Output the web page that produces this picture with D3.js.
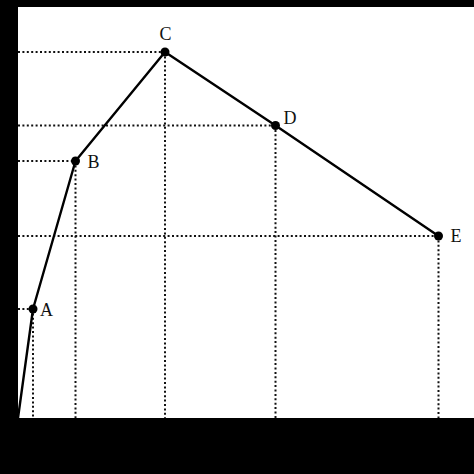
<!DOCTYPE html>
<html lang="en">
<head>
<meta charset="UTF-8" />
<title>Piecewise curve A-E</title>
<script src="https://d3js.org/d3.v7.min.js"></script>
<style>
  html, body { margin: 0; padding: 0; background: #000; }
  svg { display: block; }
  text.label { font-family: "Liberation Serif", "DejaVu Serif", serif; font-size: 18px; fill: #111; }
</style>
</head>
<body>
<div id="chart"></div>
<script>
// Points (arbitrary units, origin at bottom-left corner)
const names   = ["", "A", "B", "C", "D", "E"];
const xValues = [0, 15, 57.5, 147, 257.5, 420.5];
const yValues = [0, 109, 257, 366, 292.5, 182];

const width = 474, height = 474;
const margin = { top: 7, right: 0, bottom: 56, left: 18 };

const points = names.map((n, i) => ({ name: n, x: xValues[i], y: yValues[i] }));
const labelled = points.filter(d => d.name);

const x = d3.scaleLinear()
  .domain([0, 456])
  .range([margin.left, width - margin.right]);
const y = d3.scaleLinear()
  .domain([0, 411])
  .range([height - margin.bottom, margin.top]);

const svg = d3.select("#chart").append("svg")
  .attr("width", width)
  .attr("height", height)
  .attr("viewBox", [0, 0, width, height]);

svg.append("rect")
  .attr("width", width).attr("height", height)
  .attr("fill", "#000");

// white plot area
svg.append("rect")
  .attr("x", x(0)).attr("y", y(411))
  .attr("width", x(456) - x(0))
  .attr("height", y(0) - y(411))
  .attr("fill", "#fff");

const guides = svg.append("g")
  .attr("stroke", "#111")
  .attr("stroke-width", 2)
  .attr("stroke-dasharray", "2,2.4");

// horizontal guides from the axis to each point
guides.selectAll("line.h").data(labelled).join("line")
  .attr("class", "h")
  .attr("x1", x(0)).attr("x2", d => x(d.x))
  .attr("y1", d => y(d.y)).attr("y2", d => y(d.y));

// vertical guides from each point down to the axis
guides.selectAll("line.v").data(labelled).join("line")
  .attr("class", "v")
  .attr("x1", d => x(d.x)).attr("x2", d => x(d.x))
  .attr("y1", d => y(d.y)).attr("y2", y(0));

const line = d3.line().x(d => x(d.x)).y(d => y(d.y));

svg.append("path")
  .datum(points)
  .attr("fill", "none")
  .attr("stroke", "#000")
  .attr("stroke-width", 2.4)
  .attr("stroke-linejoin", "round")
  .attr("d", line);

svg.selectAll("circle").data(labelled).join("circle")
  .attr("cx", d => x(d.x))
  .attr("cy", d => y(d.y))
  .attr("r", 4.5)
  .attr("fill", "#000");

// label offsets relative to the point
const offsets = {
  A: [7, 7],
  B: [12, 7],
  C: [-5.5, -12],
  D: [8, -2],
  E: [12, 6]
};

svg.selectAll("text.label").data(labelled).join("text")
  .attr("class", "label")
  .attr("x", d => x(d.x) + offsets[d.name][0])
  .attr("y", d => y(d.y) + offsets[d.name][1])
  .text(d => d.name);
</script>
</body>
</html>
